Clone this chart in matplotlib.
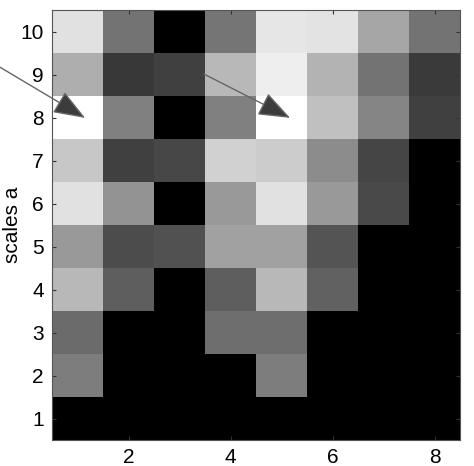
import matplotlib.pyplot as plt
import numpy as np

plt.rcParams['font.family'] = ['Liberation Sans', 'DejaVu Sans']

# Grauwerte der Zellen (Zeilen: scale a = 1..10, Spalten: b = 1..8)
shifts = [1, 2, 3, 4, 5, 6, 7, 8]
scales = [1, 2, 3, 4, 5, 6, 7, 8, 9, 10]
row1  = [0.00, 0.00, 0.00, 0.00, 0.00, 0.00, 0.00, 0.00]
row2  = [0.49, 0.00, 0.00, 0.00, 0.49, 0.00, 0.00, 0.00]
row3  = [0.42, 0.00, 0.00, 0.43, 0.43, 0.00, 0.00, 0.00]
row4  = [0.72, 0.37, 0.00, 0.37, 0.72, 0.38, 0.00, 0.00]
row5  = [0.60, 0.30, 0.32, 0.63, 0.63, 0.33, 0.00, 0.00]
row6  = [0.88, 0.58, 0.00, 0.60, 0.88, 0.60, 0.29, 0.00]
row7  = [0.78, 0.25, 0.28, 0.82, 0.80, 0.55, 0.27, 0.00]
row8  = [1.00, 0.50, 0.00, 0.50, 1.00, 0.75, 0.52, 0.25]
row9  = [0.68, 0.22, 0.25, 0.72, 0.93, 0.70, 0.45, 0.23]
row10 = [0.88, 0.45, 0.00, 0.46, 0.90, 0.89, 0.65, 0.45]

img = np.array([row1, row2, row3, row4, row5, row6, row7, row8, row9, row10])

fig = plt.figure(figsize=(4.74, 4.66), dpi=100)
ax = fig.add_axes([52/474, 26/466, 408/474, 430/466])

ax.imshow(img, cmap='gray', vmin=0, vmax=1, origin='lower', aspect='auto',
          interpolation='nearest',
          extent=(shifts[0]-0.5, shifts[-1]+0.5, scales[0]-0.5, scales[-1]+0.5))

ax.set_xticks([2, 4, 6, 8])
ax.set_yticks(scales)
ax.tick_params(direction='in', length=3, width=0.8, color='#333333',
               top=True, right=True, labelsize=15, pad=6)
for s in ax.spines.values():
    s.set_color('#555555')
    s.set_linewidth(0.8)

ax.set_ylabel('scales a', fontsize=15, labelpad=-1)
# x-Beschriftung liegt wie im Original fast ganz unter dem Bildrand
ax.set_xlabel('translations b', fontsize=15, labelpad=19)

# Pfeile auf die Maxima
arrow = dict(arrowstyle='-|>,head_length=1.0,head_width=0.38', mutation_scale=20,
             facecolor='#3c3c3c', edgecolor='#666666', lw=1.0, shrinkA=0, shrinkB=0)
ax.annotate('', xy=(1.15, 7.99), xytext=(-0.52, 9.17), arrowprops=arrow,
            annotation_clip=False)
ax.annotate('', xy=(5.17, 7.99), xytext=(3.48, 9.01), arrowprops=arrow,
            annotation_clip=False)

fig.savefig('out.png', dpi=100)
